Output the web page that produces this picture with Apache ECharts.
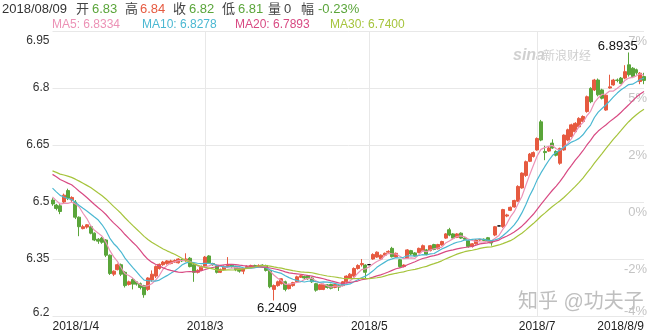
<!DOCTYPE html>
<html><head><meta charset="utf-8">
<script src="https://cdn.jsdelivr.net/npm/echarts@6/dist/echarts.min.js"></script>
<style>html,body{margin:0;padding:0;background:#fff}#c{width:657px;height:333px}</style>
</head><body><div id="c"></div>
<script>
const dates = [
'2018/1/4','2018/1/5','2018/1/8','2018/1/9','2018/1/10','2018/1/11','2018/1/12','2018/1/15','2018/1/16','2018/1/17','2018/1/18','2018/1/19','2018/1/22','2018/1/23','2018/1/24','2018/1/25','2018/1/26','2018/1/29','2018/1/30','2018/1/31',
'2018/2/1','2018/2/2','2018/2/5','2018/2/6','2018/2/7','2018/2/8','2018/2/9','2018/2/12','2018/2/13','2018/2/14','2018/2/15','2018/2/16','2018/2/19','2018/2/20','2018/2/21','2018/2/22','2018/2/23','2018/2/26','2018/2/27','2018/2/28',
'2018/3/1','2018/3/2','2018/3/5','2018/3/6','2018/3/7','2018/3/8','2018/3/9','2018/3/12','2018/3/13','2018/3/14','2018/3/15','2018/3/16','2018/3/19','2018/3/20','2018/3/21','2018/3/22','2018/3/23','2018/3/26','2018/3/27','2018/3/28','2018/3/29','2018/3/30',
'2018/4/2','2018/4/3','2018/4/4','2018/4/5','2018/4/6','2018/4/9','2018/4/10','2018/4/11','2018/4/12','2018/4/13','2018/4/16','2018/4/17','2018/4/18','2018/4/19','2018/4/20','2018/4/23','2018/4/24','2018/4/25','2018/4/26','2018/4/27','2018/4/30',
'2018/5/1','2018/5/2','2018/5/3','2018/5/4','2018/5/7','2018/5/8','2018/5/9','2018/5/10','2018/5/11','2018/5/14','2018/5/15','2018/5/16','2018/5/17','2018/5/18','2018/5/21','2018/5/22','2018/5/23','2018/5/24','2018/5/25','2018/5/28','2018/5/29','2018/5/30','2018/5/31',
'2018/6/1','2018/6/4','2018/6/5','2018/6/6','2018/6/7','2018/6/8','2018/6/11','2018/6/12','2018/6/13','2018/6/14','2018/6/15','2018/6/18','2018/6/19','2018/6/20','2018/6/21','2018/6/22','2018/6/25','2018/6/26','2018/6/27','2018/6/28','2018/6/29',
'2018/7/2','2018/7/3','2018/7/4','2018/7/5','2018/7/6','2018/7/9','2018/7/10','2018/7/11','2018/7/12','2018/7/13','2018/7/16','2018/7/17','2018/7/18','2018/7/19','2018/7/20','2018/7/23','2018/7/24','2018/7/25','2018/7/26','2018/7/27','2018/7/30','2018/7/31',
'2018/8/1','2018/8/2','2018/8/3','2018/8/6','2018/8/7','2018/8/8','2018/8/9'];

const opens = [
6.505,6.492,6.49,6.50,6.53,6.505,6.50,6.46,6.43,6.434,6.435,6.418,6.402,6.405,6.40,6.36,6.31,6.322,6.335,6.315,
6.283,6.296,6.29,6.285,6.28,6.27,6.295,6.305,6.325,6.335,6.338,6.338,6.342,6.34,6.348,6.345,6.352,6.335,6.315,6.32,
6.33,6.358,6.338,6.332,6.315,6.322,6.33,6.334,6.33,6.325,6.318,6.327,6.328,6.333,6.33,6.334,6.333,6.32,6.27,6.28,6.285,6.29,
6.272,6.28,6.29,6.302,6.304,6.306,6.30,6.285,6.27,6.27,6.282,6.283,6.275,6.28,6.28,6.29,6.30,6.305,6.325,6.335,6.334,
6.335,6.35,6.355,6.35,6.36,6.368,6.378,6.355,6.348,6.33,6.352,6.372,6.366,6.367,6.372,6.374,6.372,6.388,6.377,6.387,6.405,6.427,6.416,
6.407,6.418,6.405,6.398,6.383,6.39,6.40,6.402,6.406,6.397,6.413,6.437,6.435,6.463,6.478,6.487,6.502,6.537,6.57,6.607,6.62,
6.637,6.711,6.633,6.634,6.655,6.633,6.602,6.637,6.663,6.672,6.685,6.698,6.712,6.738,6.799,6.795,6.821,6.795,6.742,6.80,6.808,6.821,
6.826,6.826,6.861,6.852,6.848,6.817,6.83];

const closes = [
6.495,6.483,6.475,6.518,6.51,6.512,6.46,6.435,6.435,6.44,6.418,6.40,6.397,6.394,6.36,6.312,6.318,6.335,6.31,6.28,
6.29,6.284,6.284,6.275,6.256,6.30,6.31,6.33,6.336,6.342,6.345,6.345,6.346,6.35,6.345,6.35,6.33,6.315,6.32,6.33,
6.355,6.34,6.335,6.315,6.322,6.33,6.333,6.33,6.322,6.318,6.325,6.33,6.333,6.33,6.333,6.33,6.32,6.277,6.28,6.29,6.298,6.27,
6.282,6.288,6.303,6.306,6.30,6.298,6.29,6.268,6.282,6.282,6.275,6.273,6.283,6.276,6.29,6.305,6.31,6.325,6.333,6.338,6.315,
6.335,6.362,6.368,6.36,6.365,6.37,6.356,6.365,6.33,6.334,6.374,6.363,6.358,6.378,6.385,6.362,6.385,6.375,6.388,6.396,6.416,6.413,6.405,
6.416,6.405,6.402,6.383,6.39,6.40,6.401,6.399,6.396,6.392,6.435,6.437,6.48,6.466,6.486,6.504,6.541,6.576,6.606,6.626,6.63,
6.667,6.663,6.63,6.642,6.642,6.623,6.641,6.676,6.69,6.703,6.707,6.72,6.725,6.777,6.764,6.821,6.782,6.773,6.781,6.803,6.821,6.82,
6.812,6.843,6.835,6.83,6.84,6.839,6.82];

const lows = [
6.49,6.478,6.468,6.497,6.505,6.50,6.455,6.41,6.428,6.43,6.415,6.397,6.39,6.39,6.355,6.308,6.305,6.32,6.305,6.275,
6.28,6.27,6.28,6.27,6.248,6.266,6.29,6.30,6.322,6.332,6.335,6.336,6.34,6.338,6.342,6.343,6.328,6.29,6.312,6.318,
6.328,6.338,6.332,6.312,6.313,6.32,6.327,6.327,6.318,6.314,6.31,6.325,6.326,6.328,6.328,6.327,6.317,6.273,6.2409,6.277,6.283,6.265,
6.27,6.277,6.288,6.30,6.297,6.295,6.287,6.264,6.268,6.268,6.272,6.27,6.273,6.266,6.278,6.288,6.298,6.303,6.322,6.33,6.30,
6.335,6.348,6.353,6.348,6.358,6.366,6.354,6.353,6.327,6.328,6.35,6.36,6.356,6.365,6.37,6.36,6.37,6.373,6.375,6.385,6.403,6.41,6.403,
6.405,6.403,6.40,6.38,6.38,6.388,6.398,6.397,6.394,6.385,6.41,6.437,6.432,6.46,6.476,6.485,6.50,6.535,6.566,6.605,6.617,
6.635,6.66,6.61,6.632,6.64,6.62,6.598,6.635,6.66,6.67,6.683,6.695,6.71,6.735,6.76,6.792,6.778,6.77,6.74,6.798,6.806,6.815,
6.81,6.823,6.83,6.826,6.835,6.81,6.81];

const highs = [
6.51,6.495,6.495,6.522,6.535,6.515,6.505,6.462,6.44,6.442,6.438,6.42,6.405,6.408,6.402,6.362,6.32,6.338,6.338,6.318,
6.293,6.30,6.292,6.288,6.282,6.302,6.32,6.333,6.338,6.345,6.347,6.348,6.349,6.352,6.35,6.365,6.355,6.337,6.323,6.333,
6.358,6.36,6.34,6.334,6.325,6.333,6.355,6.336,6.332,6.327,6.327,6.333,6.335,6.335,6.336,6.336,6.335,6.322,6.283,6.293,6.30,6.293,
6.285,6.29,6.306,6.309,6.306,6.308,6.303,6.287,6.284,6.285,6.284,6.285,6.285,6.282,6.292,6.307,6.313,6.328,6.336,6.35,6.336,
6.335,6.365,6.37,6.362,6.367,6.373,6.382,6.367,6.35,6.336,6.376,6.374,6.368,6.38,6.388,6.376,6.387,6.39,6.39,6.398,6.418,6.432,6.418,
6.418,6.42,6.407,6.40,6.392,6.402,6.403,6.404,6.408,6.399,6.437,6.437,6.482,6.469,6.488,6.506,6.544,6.578,6.609,6.629,6.633,
6.67,6.716,6.648,6.645,6.665,6.636,6.643,6.678,6.693,6.706,6.71,6.723,6.728,6.78,6.802,6.824,6.825,6.798,6.784,6.835,6.824,6.825,
6.829,6.86,6.8935,6.855,6.851,6.842,6.84];

// closes of the 29 sessions before 2018/1/4 (needed for the moving averages at the left edge)
const preCloses = [6.60,6.61,6.59,6.60,6.61,6.60,6.59,6.60,6.61,6.59,6.61,6.62,6.61,6.61,6.60,6.62,6.61,6.60,6.61,6.60,6.58,6.57,6.56,6.55,6.54,6.53,6.52,6.51,6.51];

const maPeriods = [5, 10, 20, 30];
const maNames = ['MA5', 'MA10', 'MA20', 'MA30'];
const maLastText = ['6.8334', '6.8278', '6.7893', '6.7400'];
const yTicks = ['6.2', '6.35', '6.5', '6.65', '6.8', '6.95'];
const pctTicks = ['-4%', '-2%', '0%', '2%', '5%', '7%'];
const xTickIdx = [0, 40, 83, 127, 155];
const xTickText = ['2018/1/4', '2018/3', '2018/5', '2018/7', '2018/8/9'];
const gridXIdx = [40, 83, 127];
const extremeIdx = [58, 151];
const extremeVal = [6.2409, 6.8935];

const UP = '#e65a40', DOWN = '#5aa53a';
const maColors = ['#ec92b6', '#4bb8d2', '#d84a83', '#a6c43c'];

const all = preCloses.concat(closes);
function ma(n) {
  return closes.map((_, i) => {
    const j = i + preCloses.length;
    let s = 0;
    for (let k = j - n + 1; k <= j; k++) s += all[k];
    return +(s / n).toFixed(4);
  });
}
const kData = opens.map((o, i) => [o, closes[i], lows[i], highs[i]]);

const chart = echarts.init(document.getElementById('c'), null, {renderer: 'canvas'});
const FONT = 'Helvetica, Arial, "Liberation Sans", "Noto Sans CJK SC", sans-serif';

const header1 = [
  ['2018/08/09', 2, '#333'], ['开', 76, '#444'], ['6.83', 92, DOWN], ['高', 125, '#444'], ['6.84', 140, UP],
  ['收', 173, '#444'], ['6.82', 189, DOWN], ['低', 222, '#444'], ['6.81', 238, DOWN], ['量', 268, '#444'],
  ['0', 284, '#444'], ['幅', 301, '#444'], ['-0.23%', 318, DOWN]
];
const maLabelX = [52, 142, 235, 330];

const graphics = [];
header1.forEach(h => graphics.push({type: 'text', left: h[1], top: 3, style: {text: h[0], fill: h[2], font: '13px ' + FONT}}));
maNames.forEach((n, k) => graphics.push({type: 'text', left: maLabelX[k], top: 19, style: {text: n + ': ' + maLastText[k], fill: maColors[k], font: '12px ' + FONT}}));
graphics.push({type: 'text', left: 513, top: 48, style: {text: 'sina', fill: '#d0d0d0', font: 'italic bold 16px ' + FONT}});
graphics.push({type: 'text', left: 543, top: 51, style: {text: '新浪财经', fill: '#d0d0d0', font: '12px ' + FONT}});
graphics.push({type: 'text', left: 518, top: 292, style: {text: '知乎 @功夫子', fill: 'rgba(170,170,170,0.75)', font: '20px ' + FONT}});

const series = [{
  type: 'candlestick', name: 'K', data: kData, barWidth: 3.5,
  itemStyle: {color: UP, color0: DOWN, borderColor: UP, borderColor0: DOWN, borderColorDoji: '#000', borderWidth: 1},
  markPoint: {
    symbol: 'circle', symbolSize: 1, itemStyle: {color: 'rgba(0,0,0,0)'},
    label: {show: true, color: '#111', fontSize: 13, fontFamily: FONT},
    data: [
      {coord: [extremeIdx[0], extremeVal[0]], value: extremeVal[0], label: {show: true, position: 'bottom', distance: 1, offset: [3, 0], formatter: String(extremeVal[0]), color: '#111', fontSize: 13}},
      {coord: [extremeIdx[1], extremeVal[1]], value: extremeVal[1], label: {show: true, position: 'top', distance: 0, offset: [-11, 1], formatter: String(extremeVal[1]), color: '#111', fontSize: 13}}
    ]
  }
}];
maPeriods.forEach((p, k) => series.push({
  type: 'line', name: maNames[k], data: ma(p), showSymbol: false, symbol: 'none',
  lineStyle: {width: 1.2, color: maColors[k]}, itemStyle: {color: maColors[k]}, z: 3
}));

chart.setOption({
  animation: false,
  backgroundColor: '#fff',
  grid: {left: 52.5, right: 13, top: 31, height: 285},
  xAxis: {
    type: 'category', data: dates, boundaryGap: false,
    axisLine: {show: false}, axisTick: {show: false},
    axisLabel: {
      interval: (i) => xTickIdx.indexOf(i) >= 0,
      formatter: (v, i) => xTickText[xTickIdx.indexOf(i)] || '',
      color: '#222', fontSize: 12, fontFamily: FONT, margin: 5,
      alignMinLabel: 'left', alignMaxLabel: 'right', showMinLabel: true, showMaxLabel: true
    },
    splitLine: {show: true, interval: (i) => gridXIdx.indexOf(i) >= 0, lineStyle: {color: '#e8e8e8', width: 1}}
  },
  yAxis: [{
    type: 'value', min: 6.2, max: 6.95, interval: 0.15, scale: true,
    axisLine: {show: false}, axisTick: {show: false},
    splitLine: {lineStyle: {color: '#e8e8e8', width: 1}},
    axisLabel: {
      color: '#333', fontSize: 12, fontFamily: FONT, margin: 3,
      verticalAlignMinLabel: 'bottom', verticalAlignMaxLabel: 'top',
      formatter: (v) => {
        const k = Math.round((v - 6.2) / 0.15);
        if (k === yTicks.length - 1) return '{mx|' + yTicks[k] + '}';
        if (k === 0) return '{mn|' + yTicks[k] + '}';
        return yTicks[k] || '';
      },
      rich: {
        mx: {padding: [4, 0, 0, 0], fontSize: 12, color: '#333', fontFamily: FONT},
        mn: {padding: [0, 0, -3, 0], fontSize: 12, color: '#333', fontFamily: FONT}
      }
    }
  }, {
    type: 'value', min: 6.2, max: 6.95, interval: 0.15, scale: true, position: 'right',
    axisLine: {show: false}, axisTick: {show: false}, splitLine: {show: false},
    axisLabel: {
      inside: true, color: '#c4c4c4', fontSize: 13, fontFamily: FONT, margin: -3,
      verticalAlign: 'top', verticalAlignMinLabel: 'bottom',
      formatter: (v) => {
        const k = Math.round((v - 6.2) / 0.15);
        return k === 0 ? '{mn|' + pctTicks[k] + '}' : '{n|' + (pctTicks[k] || '') + '}';
      },
      rich: {
        n: {padding: [4, 0, 0, 0], fontSize: 13, color: '#c4c4c4', fontFamily: FONT},
        mn: {padding: [0, 0, -2, 0], fontSize: 13, color: '#c4c4c4', fontFamily: FONT}
      }
    }
  }],
  series: series,
  graphic: graphics
});
</script></body></html>
